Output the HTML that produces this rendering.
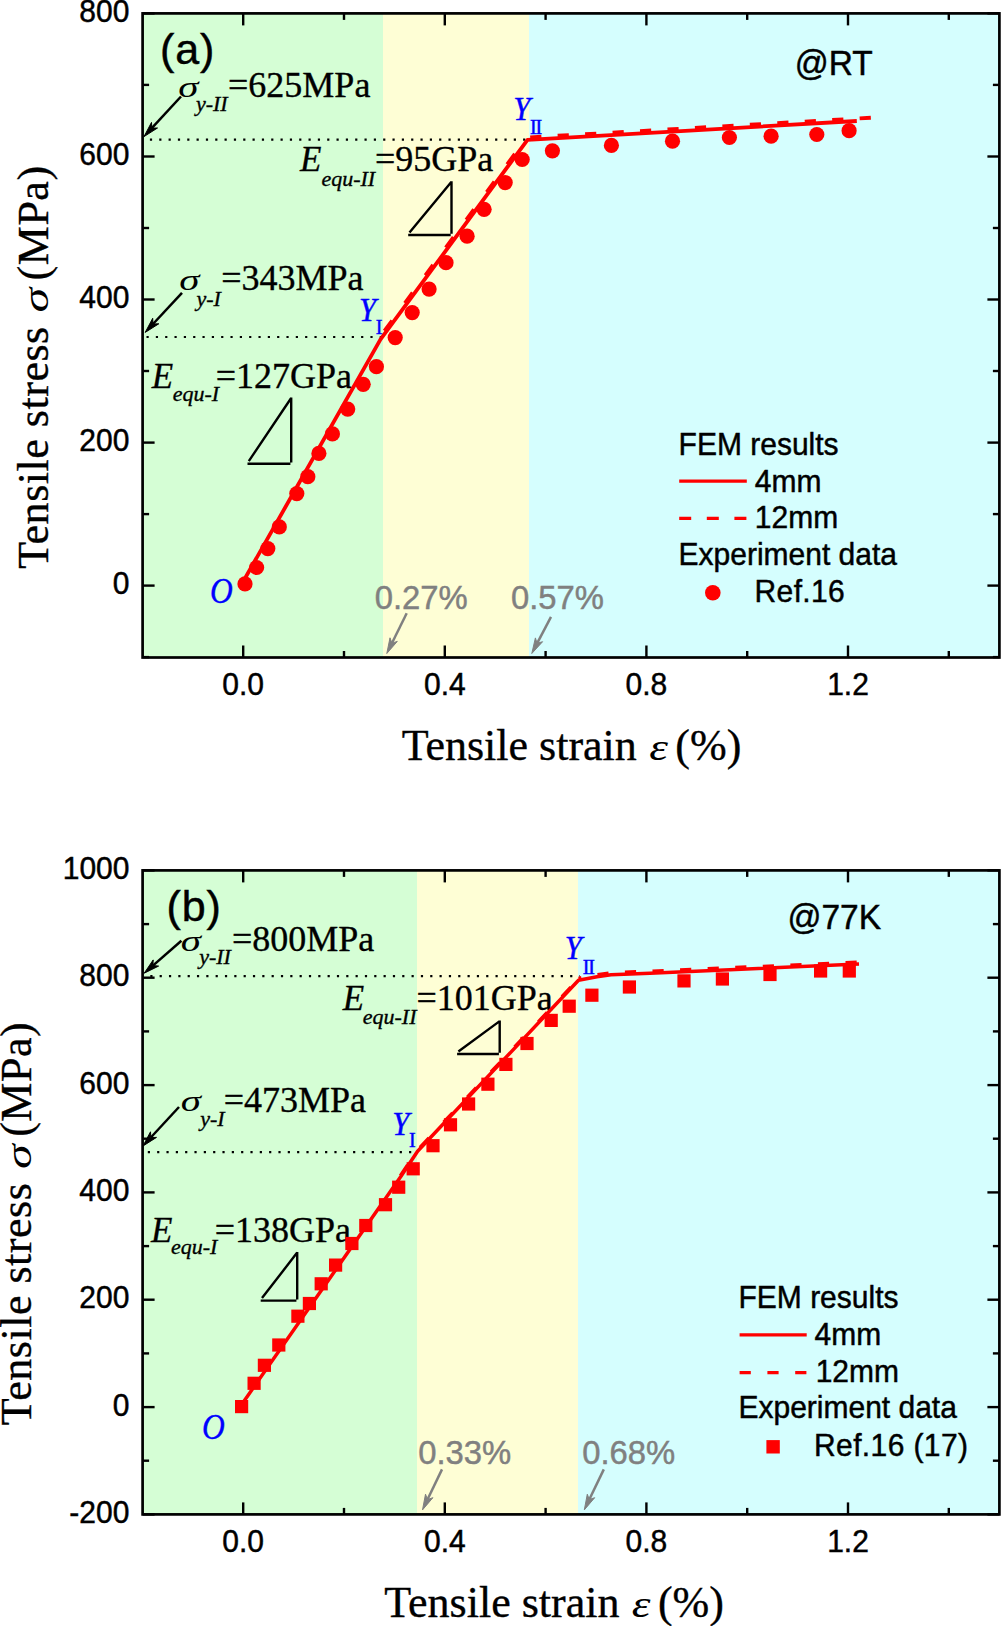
<!DOCTYPE html>
<html><head><meta charset="utf-8"><style>html,body{margin:0;padding:0;width:1001px;height:1626px;overflow:hidden;background:#fff}</style></head><body>
<svg width="1001" height="1626" viewBox="0 0 1001 1626" style="position:absolute;left:0;top:0">
<rect width="1001" height="1626" fill="#fff"/>
<rect x="142.6" y="13.4" width="240.4" height="644.1" fill="#d5fed5"/>
<rect x="383" y="13.4" width="146.0" height="644.1" fill="#fefed5"/>
<rect x="529" y="13.4" width="470.4" height="644.1" fill="#d5fefe"/>
<line x1="243.2" y1="657.5" x2="243.2" y2="645.5" stroke="#000" stroke-width="2.4"/>
<line x1="243.2" y1="13.4" x2="243.2" y2="25.4" stroke="#000" stroke-width="2.4"/>
<line x1="344.0" y1="657.5" x2="344.0" y2="651.0" stroke="#000" stroke-width="2.4"/>
<line x1="344.0" y1="13.4" x2="344.0" y2="19.9" stroke="#000" stroke-width="2.4"/>
<line x1="444.8" y1="657.5" x2="444.8" y2="645.5" stroke="#000" stroke-width="2.4"/>
<line x1="444.8" y1="13.4" x2="444.8" y2="25.4" stroke="#000" stroke-width="2.4"/>
<line x1="545.6" y1="657.5" x2="545.6" y2="651.0" stroke="#000" stroke-width="2.4"/>
<line x1="545.6" y1="13.4" x2="545.6" y2="19.9" stroke="#000" stroke-width="2.4"/>
<line x1="646.4" y1="657.5" x2="646.4" y2="645.5" stroke="#000" stroke-width="2.4"/>
<line x1="646.4" y1="13.4" x2="646.4" y2="25.4" stroke="#000" stroke-width="2.4"/>
<line x1="747.2" y1="657.5" x2="747.2" y2="651.0" stroke="#000" stroke-width="2.4"/>
<line x1="747.2" y1="13.4" x2="747.2" y2="19.9" stroke="#000" stroke-width="2.4"/>
<line x1="848.0" y1="657.5" x2="848.0" y2="645.5" stroke="#000" stroke-width="2.4"/>
<line x1="848.0" y1="13.4" x2="848.0" y2="25.4" stroke="#000" stroke-width="2.4"/>
<line x1="948.8" y1="657.5" x2="948.8" y2="651.0" stroke="#000" stroke-width="2.4"/>
<line x1="948.8" y1="13.4" x2="948.8" y2="19.9" stroke="#000" stroke-width="2.4"/>
<line x1="142.6" y1="657.1" x2="149.1" y2="657.1" stroke="#000" stroke-width="2.4"/>
<line x1="999.4" y1="657.1" x2="992.9" y2="657.1" stroke="#000" stroke-width="2.4"/>
<line x1="142.6" y1="585.6" x2="154.6" y2="585.6" stroke="#000" stroke-width="2.4"/>
<line x1="999.4" y1="585.6" x2="987.4" y2="585.6" stroke="#000" stroke-width="2.4"/>
<line x1="142.6" y1="514.1" x2="149.1" y2="514.1" stroke="#000" stroke-width="2.4"/>
<line x1="999.4" y1="514.1" x2="992.9" y2="514.1" stroke="#000" stroke-width="2.4"/>
<line x1="142.6" y1="442.6" x2="154.6" y2="442.6" stroke="#000" stroke-width="2.4"/>
<line x1="999.4" y1="442.6" x2="987.4" y2="442.6" stroke="#000" stroke-width="2.4"/>
<line x1="142.6" y1="371.0" x2="149.1" y2="371.0" stroke="#000" stroke-width="2.4"/>
<line x1="999.4" y1="371.0" x2="992.9" y2="371.0" stroke="#000" stroke-width="2.4"/>
<line x1="142.6" y1="299.5" x2="154.6" y2="299.5" stroke="#000" stroke-width="2.4"/>
<line x1="999.4" y1="299.5" x2="987.4" y2="299.5" stroke="#000" stroke-width="2.4"/>
<line x1="142.6" y1="228.0" x2="149.1" y2="228.0" stroke="#000" stroke-width="2.4"/>
<line x1="999.4" y1="228.0" x2="992.9" y2="228.0" stroke="#000" stroke-width="2.4"/>
<line x1="142.6" y1="156.5" x2="154.6" y2="156.5" stroke="#000" stroke-width="2.4"/>
<line x1="999.4" y1="156.5" x2="987.4" y2="156.5" stroke="#000" stroke-width="2.4"/>
<line x1="142.6" y1="84.9" x2="149.1" y2="84.9" stroke="#000" stroke-width="2.4"/>
<line x1="999.4" y1="84.9" x2="992.9" y2="84.9" stroke="#000" stroke-width="2.4"/>
<line x1="142.6" y1="13.4" x2="154.6" y2="13.4" stroke="#000" stroke-width="2.4"/>
<line x1="999.4" y1="13.4" x2="987.4" y2="13.4" stroke="#000" stroke-width="2.4"/>
<rect x="142.6" y="13.4" width="856.8" height="644.1" fill="none" stroke="#000" stroke-width="2.7"/>
<text transform="translate(112.70,594.20) scale(1.0,1.04)" x="0" y="0" font-family="Liberation Sans" font-size="30" fill="#000" stroke="#000" stroke-width="0.45">0</text>
<text transform="translate(79.32,451.15) scale(1.0,1.04)" x="0" y="0" font-family="Liberation Sans" font-size="30" fill="#000" stroke="#000" stroke-width="0.45">200</text>
<text transform="translate(79.32,308.10) scale(1.0,1.04)" x="0" y="0" font-family="Liberation Sans" font-size="30" fill="#000" stroke="#000" stroke-width="0.45">400</text>
<text transform="translate(79.32,165.05) scale(1.0,1.04)" x="0" y="0" font-family="Liberation Sans" font-size="30" fill="#000" stroke="#000" stroke-width="0.45">600</text>
<text transform="translate(79.32,22.00) scale(1.0,1.04)" x="0" y="0" font-family="Liberation Sans" font-size="30" fill="#000" stroke="#000" stroke-width="0.45">800</text>
<text transform="translate(243.20,695.00) scale(1,1.04)" x="0" y="0" text-anchor="middle" font-family="Liberation Sans" font-size="30" fill="#000" stroke="#000" stroke-width="0.45">0.0</text>
<text transform="translate(444.80,695.00) scale(1,1.04)" x="0" y="0" text-anchor="middle" font-family="Liberation Sans" font-size="30" fill="#000" stroke="#000" stroke-width="0.45">0.4</text>
<text transform="translate(646.40,695.00) scale(1,1.04)" x="0" y="0" text-anchor="middle" font-family="Liberation Sans" font-size="30" fill="#000" stroke="#000" stroke-width="0.45">0.8</text>
<text transform="translate(848.00,695.00) scale(1,1.04)" x="0" y="0" text-anchor="middle" font-family="Liberation Sans" font-size="30" fill="#000" stroke="#000" stroke-width="0.45">1.2</text>
<text transform="translate(159.97,64.20) scale(1.0,1.0)" x="0" y="0" font-family="Liberation Sans" font-size="43" fill="#000" letter-spacing="0.9" stroke="#000" stroke-width="0.45">(a)</text>
<text transform="translate(794.67,75.30) scale(1.0,1.04)" x="0" y="0" font-family="Liberation Sans" font-size="33.5" fill="#000" stroke="#000" stroke-width="0.45">@RT</text>
<line x1="149.90" y1="139.6" x2="527" y2="139.6" stroke="#000" stroke-width="2.2" stroke-dasharray="2.2 7.13"/>
<line x1="146.50" y1="337" x2="383" y2="337" stroke="#000" stroke-width="2.2" stroke-dasharray="2.2 7.13"/>
<line x1="181.0" y1="96.5" x2="151.8" y2="128.1" stroke="#000" stroke-width="2.5"/>
<polygon points="144.0,136.6 151.5,122.4 151.8,128.1 157.5,128.0" fill="#000" stroke="#000" stroke-width="1.0" stroke-linejoin="round"/>
<line x1="182.0" y1="292.8" x2="153.0" y2="324.0" stroke="#000" stroke-width="2.5"/>
<polygon points="145.2,332.4 152.7,318.3 153.0,324.0 158.8,323.8" fill="#000" stroke="#000" stroke-width="1.0" stroke-linejoin="round"/>
<text transform="translate(179.50,97.00) scale(1.17,0.86)" x="-1.00" y="-0.38" font-family="Liberation Serif" font-style="italic" font-size="35" fill="#000">σ</text>
<text x="195.88" y="111.00" font-family="Liberation Serif" font-style="italic" font-size="22" fill="#000" stroke="#000" stroke-width="0.35">y-II</text>
<text x="228.05" y="96.90" font-family="Liberation Serif" font-style="normal" font-size="36" fill="#000" stroke="#000" stroke-width="0.35">=625MPa</text>
<text x="299.88" y="171.00" font-family="Liberation Serif" font-style="italic" font-size="35" fill="#000" stroke="#000" stroke-width="0.35">E</text>
<text x="321.38" y="185.50" font-family="Liberation Serif" font-style="italic" font-size="22" fill="#000" stroke="#000" stroke-width="0.35">equ-II</text>
<text x="375.05" y="171.00" font-family="Liberation Serif" font-style="normal" font-size="36" fill="#000" stroke="#000" stroke-width="0.35">=95GPa</text>
<text transform="translate(180.30,290.00) scale(1.17,0.86)" x="-1.00" y="-0.38" font-family="Liberation Serif" font-style="italic" font-size="35" fill="#000">σ</text>
<text x="196.38" y="305.60" font-family="Liberation Serif" font-style="italic" font-size="22" fill="#000" stroke="#000" stroke-width="0.35">y-I</text>
<text x="221.25" y="290.00" font-family="Liberation Serif" font-style="normal" font-size="36" fill="#000" stroke="#000" stroke-width="0.35">=343MPa</text>
<text x="151.68" y="387.50" font-family="Liberation Serif" font-style="italic" font-size="35" fill="#000" stroke="#000" stroke-width="0.35">E</text>
<text x="172.68" y="401.00" font-family="Liberation Serif" font-style="italic" font-size="22" fill="#000" stroke="#000" stroke-width="0.35">equ-I</text>
<text x="215.65" y="387.50" font-family="Liberation Serif" font-style="normal" font-size="36" fill="#000" stroke="#000" stroke-width="0.35">=127GPa</text>
<path d="M409.5,232.5 L451.5,181.8 M451.5,181.3 L451.5,233.8 M408.2,235 L450.7,235" fill="none" stroke="#000" stroke-width="2.4"/>
<path d="M248.8,461.2 L291.2,398 M291.2,397.5 L291.2,462.5 M247.5,463.7 L290.4,463.7" fill="none" stroke="#000" stroke-width="2.4"/>
<polyline points="379.0,338.4 527.0,137.3" fill="none" stroke="#ff0000" stroke-width="3.8" stroke-linejoin="round" stroke-dasharray="13 21.5" stroke-dashoffset="25.3"/>
<polyline points="527.0,137.5 856.8,118.6 871.8,117.7" fill="none" stroke="#ff0000" stroke-width="3.8" stroke-linejoin="round" stroke-dasharray="11.2 16.3" stroke-dashoffset="24.3"/>
<polyline points="243.5,581.0 380.5,339.4 527.5,139.8 856.8,121.0" fill="none" stroke="#ff0000" stroke-width="3.8" stroke-linejoin="round"/>
<circle cx="245" cy="583.9" r="7.6" fill="#ff0000"/>
<circle cx="256.6" cy="567.5" r="7.6" fill="#ff0000"/>
<circle cx="267.8" cy="548.6" r="7.6" fill="#ff0000"/>
<circle cx="279.3" cy="526.9" r="7.6" fill="#ff0000"/>
<circle cx="296.8" cy="493.6" r="7.6" fill="#ff0000"/>
<circle cx="307.8" cy="476.7" r="7.6" fill="#ff0000"/>
<circle cx="318.9" cy="453.4" r="7.6" fill="#ff0000"/>
<circle cx="332.4" cy="433.9" r="7.6" fill="#ff0000"/>
<circle cx="347.7" cy="409.1" r="7.6" fill="#ff0000"/>
<circle cx="363.2" cy="384.3" r="7.6" fill="#ff0000"/>
<circle cx="376.4" cy="366.7" r="7.6" fill="#ff0000"/>
<circle cx="395.2" cy="337.6" r="7.6" fill="#ff0000"/>
<circle cx="412.2" cy="312.6" r="7.6" fill="#ff0000"/>
<circle cx="429.1" cy="289.1" r="7.6" fill="#ff0000"/>
<circle cx="446" cy="262.7" r="7.6" fill="#ff0000"/>
<circle cx="467.1" cy="236.2" r="7.6" fill="#ff0000"/>
<circle cx="484.1" cy="209.3" r="7.6" fill="#ff0000"/>
<circle cx="505.2" cy="182.6" r="7.6" fill="#ff0000"/>
<circle cx="522.2" cy="159.5" r="7.6" fill="#ff0000"/>
<circle cx="552.4" cy="150.8" r="7.6" fill="#ff0000"/>
<circle cx="611.4" cy="145.4" r="7.6" fill="#ff0000"/>
<circle cx="672.5" cy="141.2" r="7.6" fill="#ff0000"/>
<circle cx="729.4" cy="137.5" r="7.6" fill="#ff0000"/>
<circle cx="771.1" cy="136.2" r="7.6" fill="#ff0000"/>
<circle cx="816.8" cy="134.5" r="7.6" fill="#ff0000"/>
<circle cx="849.1" cy="130.7" r="7.6" fill="#ff0000"/>
<text transform="translate(359.06,320.80) scale(0.93,1)" x="0" y="0" font-family="Liberation Serif" font-style="italic" font-size="33" fill="#0000ff" stroke="#0000ff" stroke-width="0.45">Y</text>
<text x="375.65" y="334.40" font-family="Liberation Serif" font-style="normal" font-size="20" fill="#0000ff" stroke="#0000ff" stroke-width="0.45">I</text>
<text transform="translate(513.36,119.90) scale(0.93,1)" x="0" y="0" font-family="Liberation Serif" font-style="italic" font-size="33" fill="#0000ff" stroke="#0000ff" stroke-width="0.45">Y</text>
<text x="529.95" y="133.50" font-family="Liberation Serif" font-style="normal" font-size="20" fill="#0000ff" letter-spacing="-1.2" stroke="#0000ff" stroke-width="0.45">II</text>
<text transform="translate(210.03,603.00) scale(0.9,1)" x="0" y="0" font-family="Liberation Serif" font-style="italic" font-size="35" fill="#0000ff" stroke="#0000ff" stroke-width="0.35">O</text>
<text transform="translate(374.75,609.30) scale(1.0,1.04)" x="0" y="0" font-family="Liberation Sans" font-size="32.8" fill="#808080" stroke="#808080" stroke-width="0.45">0.27%</text>
<text transform="translate(510.95,609.30) scale(1.0,1.04)" x="0" y="0" font-family="Liberation Sans" font-size="32.8" fill="#808080" stroke="#808080" stroke-width="0.45">0.57%</text>
<line x1="406.7" y1="613.2" x2="391.9" y2="643.2" stroke="#808080" stroke-width="2.5"/>
<polygon points="386.8,653.5 390.0,637.8 391.9,643.2 397.3,641.4" fill="#808080" stroke="#808080" stroke-width="1.0" stroke-linejoin="round"/>
<line x1="551.0" y1="616.8" x2="537.1" y2="643.3" stroke="#808080" stroke-width="2.5"/>
<polygon points="531.8,653.5 535.4,637.9 537.1,643.3 542.6,641.7" fill="#808080" stroke="#808080" stroke-width="1.0" stroke-linejoin="round"/>
<text transform="translate(678.60,454.80) scale(1.0,1.04)" x="0" y="0" font-family="Liberation Sans" font-size="30" fill="#000" stroke="#000" stroke-width="0.45">FEM results</text>
<line x1="679.2" y1="481.2" x2="746.8" y2="481.2" stroke="#ff0000" stroke-width="3.2"/>
<text transform="translate(754.77,491.50) scale(1.0,1.04)" x="0" y="0" font-family="Liberation Sans" font-size="30" fill="#000" stroke="#000" stroke-width="0.45">4mm</text>
<line x1="679.2" y1="518.3" x2="746.8" y2="518.3" stroke="#ff0000" stroke-width="3.2" stroke-dasharray="12 15.6"/>
<text transform="translate(754.85,528.40) scale(1.0,1.04)" x="0" y="0" font-family="Liberation Sans" font-size="30" fill="#000" stroke="#000" stroke-width="0.45">12mm</text>
<text transform="translate(678.60,565.10) scale(1.0,1.04)" x="0" y="0" font-family="Liberation Sans" font-size="30" fill="#000" stroke="#000" stroke-width="0.45">Experiment data</text>
<circle cx="712.8" cy="592.7" r="7.8" fill="#ff0000"/>
<text transform="translate(754.60,602.30) scale(1.0,1.04)" x="0" y="0" font-family="Liberation Sans" font-size="30" fill="#000" letter-spacing="0.35" stroke="#000" stroke-width="0.45">Ref.16</text>
<text x="401.65" y="760.00" font-family="Liberation Serif" font-style="normal" font-size="44" fill="#000" stroke="#000" stroke-width="0.35">Tensile strain</text>
<text transform="translate(650.20,760.00) scale(1.08,0.85)" x="-0.88" y="-0.38" font-family="Liberation Serif" font-style="italic" font-size="44" fill="#000">ε</text>
<text x="675.33" y="760.00" font-family="Liberation Serif" font-style="normal" font-size="44" fill="#000" stroke="#000" stroke-width="0.35">(%)</text>
<g transform="translate(47.8,568) rotate(-90)">
<text x="-0.75" y="0.00" font-family="Liberation Serif" font-style="normal" font-size="44" fill="#000" letter-spacing="0.52" stroke="#000" stroke-width="0.35">Tensile stress</text>
<text transform="translate(256.90,0.00) scale(1.14,0.8)" x="-1.25" y="-0.38" font-family="Liberation Serif" font-style="italic" font-size="44" fill="#000">σ</text>
<text x="287.62" y="0.00" font-family="Liberation Serif" font-style="normal" font-size="44" fill="#000" letter-spacing="0.5" stroke="#000" stroke-width="0.35">(MPa)</text>
</g>
<rect x="142.6" y="870.4" width="274.4" height="644.0" fill="#d5fed5"/>
<rect x="417" y="870.4" width="161.0" height="644.0" fill="#fefed5"/>
<rect x="578" y="870.4" width="421.4" height="644.0" fill="#d5fefe"/>
<line x1="243.2" y1="1514.4" x2="243.2" y2="1502.4" stroke="#000" stroke-width="2.4"/>
<line x1="243.2" y1="870.4" x2="243.2" y2="882.4" stroke="#000" stroke-width="2.4"/>
<line x1="344.0" y1="1514.4" x2="344.0" y2="1507.9" stroke="#000" stroke-width="2.4"/>
<line x1="344.0" y1="870.4" x2="344.0" y2="876.9" stroke="#000" stroke-width="2.4"/>
<line x1="444.8" y1="1514.4" x2="444.8" y2="1502.4" stroke="#000" stroke-width="2.4"/>
<line x1="444.8" y1="870.4" x2="444.8" y2="882.4" stroke="#000" stroke-width="2.4"/>
<line x1="545.6" y1="1514.4" x2="545.6" y2="1507.9" stroke="#000" stroke-width="2.4"/>
<line x1="545.6" y1="870.4" x2="545.6" y2="876.9" stroke="#000" stroke-width="2.4"/>
<line x1="646.4" y1="1514.4" x2="646.4" y2="1502.4" stroke="#000" stroke-width="2.4"/>
<line x1="646.4" y1="870.4" x2="646.4" y2="882.4" stroke="#000" stroke-width="2.4"/>
<line x1="747.2" y1="1514.4" x2="747.2" y2="1507.9" stroke="#000" stroke-width="2.4"/>
<line x1="747.2" y1="870.4" x2="747.2" y2="876.9" stroke="#000" stroke-width="2.4"/>
<line x1="848.0" y1="1514.4" x2="848.0" y2="1502.4" stroke="#000" stroke-width="2.4"/>
<line x1="848.0" y1="870.4" x2="848.0" y2="882.4" stroke="#000" stroke-width="2.4"/>
<line x1="948.8" y1="1514.4" x2="948.8" y2="1507.9" stroke="#000" stroke-width="2.4"/>
<line x1="948.8" y1="870.4" x2="948.8" y2="876.9" stroke="#000" stroke-width="2.4"/>
<line x1="142.6" y1="1514.4" x2="154.6" y2="1514.4" stroke="#000" stroke-width="2.4"/>
<line x1="999.4" y1="1514.4" x2="987.4" y2="1514.4" stroke="#000" stroke-width="2.4"/>
<line x1="142.6" y1="1460.7" x2="149.1" y2="1460.7" stroke="#000" stroke-width="2.4"/>
<line x1="999.4" y1="1460.7" x2="992.9" y2="1460.7" stroke="#000" stroke-width="2.4"/>
<line x1="142.6" y1="1407.1" x2="154.6" y2="1407.1" stroke="#000" stroke-width="2.4"/>
<line x1="999.4" y1="1407.1" x2="987.4" y2="1407.1" stroke="#000" stroke-width="2.4"/>
<line x1="142.6" y1="1353.4" x2="149.1" y2="1353.4" stroke="#000" stroke-width="2.4"/>
<line x1="999.4" y1="1353.4" x2="992.9" y2="1353.4" stroke="#000" stroke-width="2.4"/>
<line x1="142.6" y1="1299.7" x2="154.6" y2="1299.7" stroke="#000" stroke-width="2.4"/>
<line x1="999.4" y1="1299.7" x2="987.4" y2="1299.7" stroke="#000" stroke-width="2.4"/>
<line x1="142.6" y1="1246.1" x2="149.1" y2="1246.1" stroke="#000" stroke-width="2.4"/>
<line x1="999.4" y1="1246.1" x2="992.9" y2="1246.1" stroke="#000" stroke-width="2.4"/>
<line x1="142.6" y1="1192.4" x2="154.6" y2="1192.4" stroke="#000" stroke-width="2.4"/>
<line x1="999.4" y1="1192.4" x2="987.4" y2="1192.4" stroke="#000" stroke-width="2.4"/>
<line x1="142.6" y1="1138.7" x2="149.1" y2="1138.7" stroke="#000" stroke-width="2.4"/>
<line x1="999.4" y1="1138.7" x2="992.9" y2="1138.7" stroke="#000" stroke-width="2.4"/>
<line x1="142.6" y1="1085.1" x2="154.6" y2="1085.1" stroke="#000" stroke-width="2.4"/>
<line x1="999.4" y1="1085.1" x2="987.4" y2="1085.1" stroke="#000" stroke-width="2.4"/>
<line x1="142.6" y1="1031.4" x2="149.1" y2="1031.4" stroke="#000" stroke-width="2.4"/>
<line x1="999.4" y1="1031.4" x2="992.9" y2="1031.4" stroke="#000" stroke-width="2.4"/>
<line x1="142.6" y1="977.7" x2="154.6" y2="977.7" stroke="#000" stroke-width="2.4"/>
<line x1="999.4" y1="977.7" x2="987.4" y2="977.7" stroke="#000" stroke-width="2.4"/>
<line x1="142.6" y1="924.1" x2="149.1" y2="924.1" stroke="#000" stroke-width="2.4"/>
<line x1="999.4" y1="924.1" x2="992.9" y2="924.1" stroke="#000" stroke-width="2.4"/>
<line x1="142.6" y1="870.4" x2="154.6" y2="870.4" stroke="#000" stroke-width="2.4"/>
<line x1="999.4" y1="870.4" x2="987.4" y2="870.4" stroke="#000" stroke-width="2.4"/>
<rect x="142.6" y="870.4" width="856.8" height="644.0" fill="none" stroke="#000" stroke-width="2.7"/>
<text transform="translate(69.32,1523.00) scale(1.0,1.04)" x="0" y="0" font-family="Liberation Sans" font-size="30" fill="#000" stroke="#000" stroke-width="0.45">-200</text>
<text transform="translate(112.70,1415.67) scale(1.0,1.04)" x="0" y="0" font-family="Liberation Sans" font-size="30" fill="#000" stroke="#000" stroke-width="0.45">0</text>
<text transform="translate(79.32,1308.34) scale(1.0,1.04)" x="0" y="0" font-family="Liberation Sans" font-size="30" fill="#000" stroke="#000" stroke-width="0.45">200</text>
<text transform="translate(79.32,1201.00) scale(1.0,1.04)" x="0" y="0" font-family="Liberation Sans" font-size="30" fill="#000" stroke="#000" stroke-width="0.45">400</text>
<text transform="translate(79.32,1093.67) scale(1.0,1.04)" x="0" y="0" font-family="Liberation Sans" font-size="30" fill="#000" stroke="#000" stroke-width="0.45">600</text>
<text transform="translate(79.32,986.33) scale(1.0,1.04)" x="0" y="0" font-family="Liberation Sans" font-size="30" fill="#000" stroke="#000" stroke-width="0.45">800</text>
<text transform="translate(62.70,879.00) scale(1.0,1.04)" x="0" y="0" font-family="Liberation Sans" font-size="30" fill="#000" stroke="#000" stroke-width="0.45">1000</text>
<text transform="translate(243.20,1551.50) scale(1,1.04)" x="0" y="0" text-anchor="middle" font-family="Liberation Sans" font-size="30" fill="#000" stroke="#000" stroke-width="0.45">0.0</text>
<text transform="translate(444.80,1551.50) scale(1,1.04)" x="0" y="0" text-anchor="middle" font-family="Liberation Sans" font-size="30" fill="#000" stroke="#000" stroke-width="0.45">0.4</text>
<text transform="translate(646.40,1551.50) scale(1,1.04)" x="0" y="0" text-anchor="middle" font-family="Liberation Sans" font-size="30" fill="#000" stroke="#000" stroke-width="0.45">0.8</text>
<text transform="translate(848.00,1551.50) scale(1,1.04)" x="0" y="0" text-anchor="middle" font-family="Liberation Sans" font-size="30" fill="#000" stroke="#000" stroke-width="0.45">1.2</text>
<text transform="translate(166.57,920.70) scale(1.0,1.0)" x="0" y="0" font-family="Liberation Sans" font-size="43" fill="#000" letter-spacing="0.9" stroke="#000" stroke-width="0.45">(b)</text>
<text transform="translate(787.48,929.40) scale(1.0,1.04)" x="0" y="0" font-family="Liberation Sans" font-size="33.5" fill="#000" stroke="#000" stroke-width="0.45">@77K</text>
<line x1="150.30" y1="976.2" x2="580" y2="976.2" stroke="#000" stroke-width="2.2" stroke-dasharray="2.2 7.13"/>
<line x1="147.80" y1="1152.1" x2="416" y2="1152.1" stroke="#000" stroke-width="2.2" stroke-dasharray="2.2 7.13"/>
<line x1="181.4" y1="940.8" x2="152.9" y2="965.6" stroke="#000" stroke-width="2.5"/>
<polygon points="144.2,973.2 153.2,959.9 152.9,965.6 158.6,966.1" fill="#000" stroke="#000" stroke-width="1.0" stroke-linejoin="round"/>
<line x1="179.0" y1="1107.0" x2="150.8" y2="1137.5" stroke="#000" stroke-width="2.5"/>
<polygon points="143.0,1146.0 150.5,1131.8 150.8,1137.5 156.5,1137.4" fill="#000" stroke="#000" stroke-width="1.0" stroke-linejoin="round"/>
<text transform="translate(182.00,951.00) scale(1.17,0.86)" x="-1.00" y="-0.38" font-family="Liberation Serif" font-style="italic" font-size="35" fill="#000">σ</text>
<text x="199.18" y="963.70" font-family="Liberation Serif" font-style="italic" font-size="22" fill="#000" stroke="#000" stroke-width="0.35">y-II</text>
<text x="231.95" y="951.00" font-family="Liberation Serif" font-style="normal" font-size="36" fill="#000" stroke="#000" stroke-width="0.35">=800MPa</text>
<text x="342.77" y="1009.70" font-family="Liberation Serif" font-style="italic" font-size="35" fill="#000" stroke="#000" stroke-width="0.35">E</text>
<text x="362.77" y="1023.60" font-family="Liberation Serif" font-style="italic" font-size="22" fill="#000" stroke="#000" stroke-width="0.35">equ-II</text>
<text x="416.55" y="1009.70" font-family="Liberation Serif" font-style="normal" font-size="36" fill="#000" stroke="#000" stroke-width="0.35">=101GPa</text>
<text transform="translate(182.00,1111.50) scale(1.17,0.86)" x="-1.00" y="-0.38" font-family="Liberation Serif" font-style="italic" font-size="35" fill="#000">σ</text>
<text x="200.28" y="1126.40" font-family="Liberation Serif" font-style="italic" font-size="22" fill="#000" stroke="#000" stroke-width="0.35">y-I</text>
<text x="223.65" y="1111.50" font-family="Liberation Serif" font-style="normal" font-size="36" fill="#000" stroke="#000" stroke-width="0.35">=473MPa</text>
<text x="150.88" y="1241.80" font-family="Liberation Serif" font-style="italic" font-size="35" fill="#000" stroke="#000" stroke-width="0.35">E</text>
<text x="170.88" y="1253.80" font-family="Liberation Serif" font-style="italic" font-size="22" fill="#000" stroke="#000" stroke-width="0.35">equ-I</text>
<text x="214.65" y="1241.80" font-family="Liberation Serif" font-style="normal" font-size="36" fill="#000" stroke="#000" stroke-width="0.35">=138GPa</text>
<path d="M458.40000000000003,1051.5 L499.7,1021.1 M499.7,1020.6 L499.7,1052.8 M457.1,1054 L498.9,1054" fill="none" stroke="#000" stroke-width="2.4"/>
<path d="M262.0,1298.1 L297.2,1252.6 M297.2,1252.1 L297.2,1299.3999999999999 M260.7,1300.6 L296.4,1300.6" fill="none" stroke="#000" stroke-width="2.4"/>
<polyline points="400.4,1175.7 417.0,1150.6 577.9,979.7" fill="none" stroke="#ff0000" stroke-width="3.4" stroke-linejoin="round" stroke-dasharray="13 21.5" stroke-dashoffset="0"/>
<polyline points="578.5,978.3 597.0,974.8 611.0,972.8 650.0,971.2 859.0,962.2" fill="none" stroke="#ff0000" stroke-width="3.4" stroke-linejoin="round" stroke-dasharray="11.2 16.4" stroke-dashoffset="8.300000000000047"/>
<polyline points="242.0,1404.0 401.0,1176.3 417.6,1151.2 578.5,980.3 597.0,976.8 611.0,974.8 650.0,973.2 859.0,964.0" fill="none" stroke="#ff0000" stroke-width="3.5" stroke-linejoin="round"/>
<rect x="235.0" y="1400.0" width="13.2" height="13.2" fill="#ff0000"/>
<rect x="247.5" y="1376.7" width="13.2" height="13.2" fill="#ff0000"/>
<rect x="257.8" y="1358.7" width="13.2" height="13.2" fill="#ff0000"/>
<rect x="272.2" y="1338.4" width="13.2" height="13.2" fill="#ff0000"/>
<rect x="291.3" y="1309.6" width="13.2" height="13.2" fill="#ff0000"/>
<rect x="302.8" y="1296.9" width="13.2" height="13.2" fill="#ff0000"/>
<rect x="314.6" y="1277.2" width="13.2" height="13.2" fill="#ff0000"/>
<rect x="329.0" y="1258.5" width="13.2" height="13.2" fill="#ff0000"/>
<rect x="345.3" y="1236.9" width="13.2" height="13.2" fill="#ff0000"/>
<rect x="359.2" y="1218.9" width="13.2" height="13.2" fill="#ff0000"/>
<rect x="378.9" y="1198.1" width="13.2" height="13.2" fill="#ff0000"/>
<rect x="392.1" y="1180.6" width="13.2" height="13.2" fill="#ff0000"/>
<rect x="406.6" y="1162.2" width="13.2" height="13.2" fill="#ff0000"/>
<rect x="426.4" y="1139.1" width="13.2" height="13.2" fill="#ff0000"/>
<rect x="443.9" y="1118.2" width="13.2" height="13.2" fill="#ff0000"/>
<rect x="462.0" y="1097.4" width="13.2" height="13.2" fill="#ff0000"/>
<rect x="481.3" y="1077.6" width="13.2" height="13.2" fill="#ff0000"/>
<rect x="499.3" y="1057.8" width="13.2" height="13.2" fill="#ff0000"/>
<rect x="520.4" y="1036.9" width="13.2" height="13.2" fill="#ff0000"/>
<rect x="544.6" y="1013.8" width="13.2" height="13.2" fill="#ff0000"/>
<rect x="562.6" y="999.6" width="13.2" height="13.2" fill="#ff0000"/>
<rect x="585.3" y="988.6" width="13.2" height="13.2" fill="#ff0000"/>
<rect x="622.8" y="980.4" width="13.2" height="13.2" fill="#ff0000"/>
<rect x="677.4" y="974.3" width="13.2" height="13.2" fill="#ff0000"/>
<rect x="715.8" y="972.4" width="13.2" height="13.2" fill="#ff0000"/>
<rect x="763.4" y="967.9" width="13.2" height="13.2" fill="#ff0000"/>
<rect x="814.0" y="964.4" width="13.2" height="13.2" fill="#ff0000"/>
<rect x="842.7" y="964.4" width="13.2" height="13.2" fill="#ff0000"/>
<text transform="translate(392.36,1135.40) scale(0.93,1)" x="0" y="0" font-family="Liberation Serif" font-style="italic" font-size="33" fill="#0000ff" stroke="#0000ff" stroke-width="0.45">Y</text>
<text x="408.95" y="1147.40" font-family="Liberation Serif" font-style="normal" font-size="20" fill="#0000ff" stroke="#0000ff" stroke-width="0.45">I</text>
<text transform="translate(564.66,959.20) scale(0.93,1)" x="0" y="0" font-family="Liberation Serif" font-style="italic" font-size="33" fill="#0000ff" stroke="#0000ff" stroke-width="0.45">Y</text>
<text x="582.75" y="973.60" font-family="Liberation Serif" font-style="normal" font-size="20" fill="#0000ff" letter-spacing="-1.2" stroke="#0000ff" stroke-width="0.45">II</text>
<text transform="translate(202.12,1438.70) scale(0.9,1)" x="0" y="0" font-family="Liberation Serif" font-style="italic" font-size="35" fill="#0000ff" stroke="#0000ff" stroke-width="0.35">O</text>
<text transform="translate(418.25,1463.50) scale(1.0,1.04)" x="0" y="0" font-family="Liberation Sans" font-size="32.8" fill="#808080" stroke="#808080" stroke-width="0.45">0.33%</text>
<text transform="translate(582.15,1463.50) scale(1.0,1.04)" x="0" y="0" font-family="Liberation Sans" font-size="32.8" fill="#808080" stroke="#808080" stroke-width="0.45">0.68%</text>
<line x1="442.0" y1="1469.4" x2="427.5" y2="1499.5" stroke="#808080" stroke-width="2.5"/>
<polygon points="422.5,1509.9 425.5,1494.2 427.5,1499.5 432.9,1497.7" fill="#808080" stroke="#808080" stroke-width="1.0" stroke-linejoin="round"/>
<line x1="603.8" y1="1469.4" x2="589.3" y2="1499.5" stroke="#808080" stroke-width="2.5"/>
<polygon points="584.3,1509.9 587.3,1494.2 589.3,1499.5 594.7,1497.7" fill="#808080" stroke="#808080" stroke-width="1.0" stroke-linejoin="round"/>
<text transform="translate(738.50,1307.80) scale(1.0,1.04)" x="0" y="0" font-family="Liberation Sans" font-size="30" fill="#000" stroke="#000" stroke-width="0.45">FEM results</text>
<line x1="739.6" y1="1334.9" x2="806.7" y2="1334.9" stroke="#ff0000" stroke-width="3.2"/>
<text transform="translate(814.48,1345.00) scale(1.0,1.04)" x="0" y="0" font-family="Liberation Sans" font-size="30" fill="#000" stroke="#000" stroke-width="0.45">4mm</text>
<line x1="739.6" y1="1372.7" x2="806.7" y2="1372.7" stroke="#ff0000" stroke-width="3.2" stroke-dasharray="11.2 16.6"/>
<text transform="translate(815.65,1381.90) scale(1.0,1.04)" x="0" y="0" font-family="Liberation Sans" font-size="30" fill="#000" stroke="#000" stroke-width="0.45">12mm</text>
<text transform="translate(738.50,1418.30) scale(1.0,1.04)" x="0" y="0" font-family="Liberation Sans" font-size="30" fill="#000" stroke="#000" stroke-width="0.45">Experiment data</text>
<rect x="766.4" y="1440.1" width="13.4" height="13.4" fill="#ff0000"/>
<text transform="translate(814.00,1456.00) scale(1.0,1.04)" x="0" y="0" font-family="Liberation Sans" font-size="30" fill="#000" letter-spacing="0.4" stroke="#000" stroke-width="0.45">Ref.16 (17)</text>
<text x="384.25" y="1617.00" font-family="Liberation Serif" font-style="normal" font-size="44" fill="#000" stroke="#000" stroke-width="0.35">Tensile strain</text>
<text transform="translate(632.80,1617.00) scale(1.08,0.85)" x="-0.88" y="-0.38" font-family="Liberation Serif" font-style="italic" font-size="44" fill="#000">ε</text>
<text x="657.93" y="1617.00" font-family="Liberation Serif" font-style="normal" font-size="44" fill="#000" stroke="#000" stroke-width="0.35">(%)</text>
<g transform="translate(31.2,1424.4) rotate(-90)">
<text x="-0.75" y="0.00" font-family="Liberation Serif" font-style="normal" font-size="44" fill="#000" letter-spacing="0.52" stroke="#000" stroke-width="0.35">Tensile stress</text>
<text transform="translate(256.90,0.00) scale(1.14,0.8)" x="-1.25" y="-0.38" font-family="Liberation Serif" font-style="italic" font-size="44" fill="#000">σ</text>
<text x="287.62" y="0.00" font-family="Liberation Serif" font-style="normal" font-size="44" fill="#000" letter-spacing="0.5" stroke="#000" stroke-width="0.35">(MPa)</text>
</g>
</svg>
</body></html>
